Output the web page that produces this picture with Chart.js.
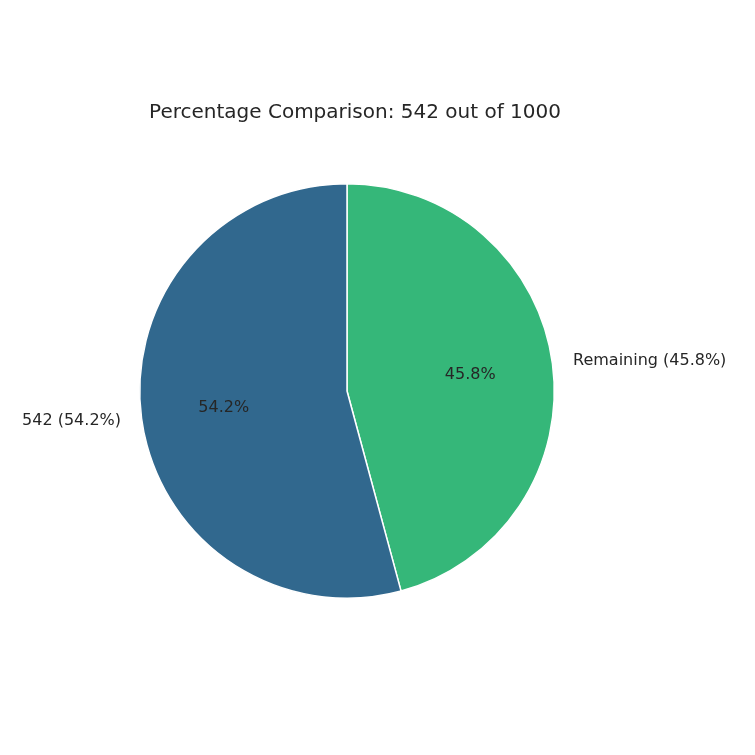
<!DOCTYPE html>
<html><head><meta charset="utf-8">
<script src="https://cdn.jsdelivr.net/npm/chart.js@4"></script>
<style>html,body{margin:0;padding:0;background:#fff}#w{width:755px;height:755px}</style>
</head><body><div id="w"><canvas id="c"></canvas></div>
<script>
const titleText = "Percentage Comparison: 542 out of 1000";
const categories = ["Remaining", "542"];
const values = [458, 542];
const colors = ["#35b779", "#31688e"];
const total = values.reduce((a,b)=>a+b,0);
const pct = values.map(v => (v/total*100).toFixed(1) + "%");

const labelPlugin = {
  id: 'labels',
  afterDraw(chart) {
    const ctx = chart.ctx;
    ctx.save();
    ctx.fillStyle = "#262626";
    ctx.font = '20px "DejaVu Sans"';
    ctx.textAlign = "center"; ctx.textBaseline = "middle";
    const cx0 = (chart.chartArea.left + chart.chartArea.right)/2;
    ctx.fillText(titleText, cx0 + 8, 113);
    const meta = chart.getDatasetMeta(0);
    meta.data.forEach((arc, i) => {
      const mid = (arc.startAngle + arc.endAngle)/2;
      const r = arc.outerRadius;
      const cos = Math.cos(mid), sin = Math.sin(mid);
      ctx.font = '16px "DejaVu Sans"';
      ctx.textAlign = "center";
      ctx.fillText(pct[i], arc.x + 0.6*r*cos, arc.y + 0.6*r*sin);
      ctx.textAlign = cos >= 0 ? "left" : "right";
      ctx.fillText(categories[i] + " (" + pct[i] + ")", arc.x + 1.1*r*cos, arc.y + 1.1*r*sin);
    });
    ctx.restore();
  }
};

new Chart(document.getElementById('c'), {
  type: 'pie',
  data: { labels: categories, datasets: [{ data: values, backgroundColor: colors, borderColor: "#ffffff", borderWidth: 1.5 }] },
  options: {
    responsive: true, maintainAspectRatio: false, animation: false,
    layout: { padding: { left: 139, right: 200, top: 183, bottom: 156 } },
    plugins: { legend: { display: false }, tooltip: { enabled: false }, title: { display: false } }
  },
  plugins: [labelPlugin]
});
</script></body></html>
